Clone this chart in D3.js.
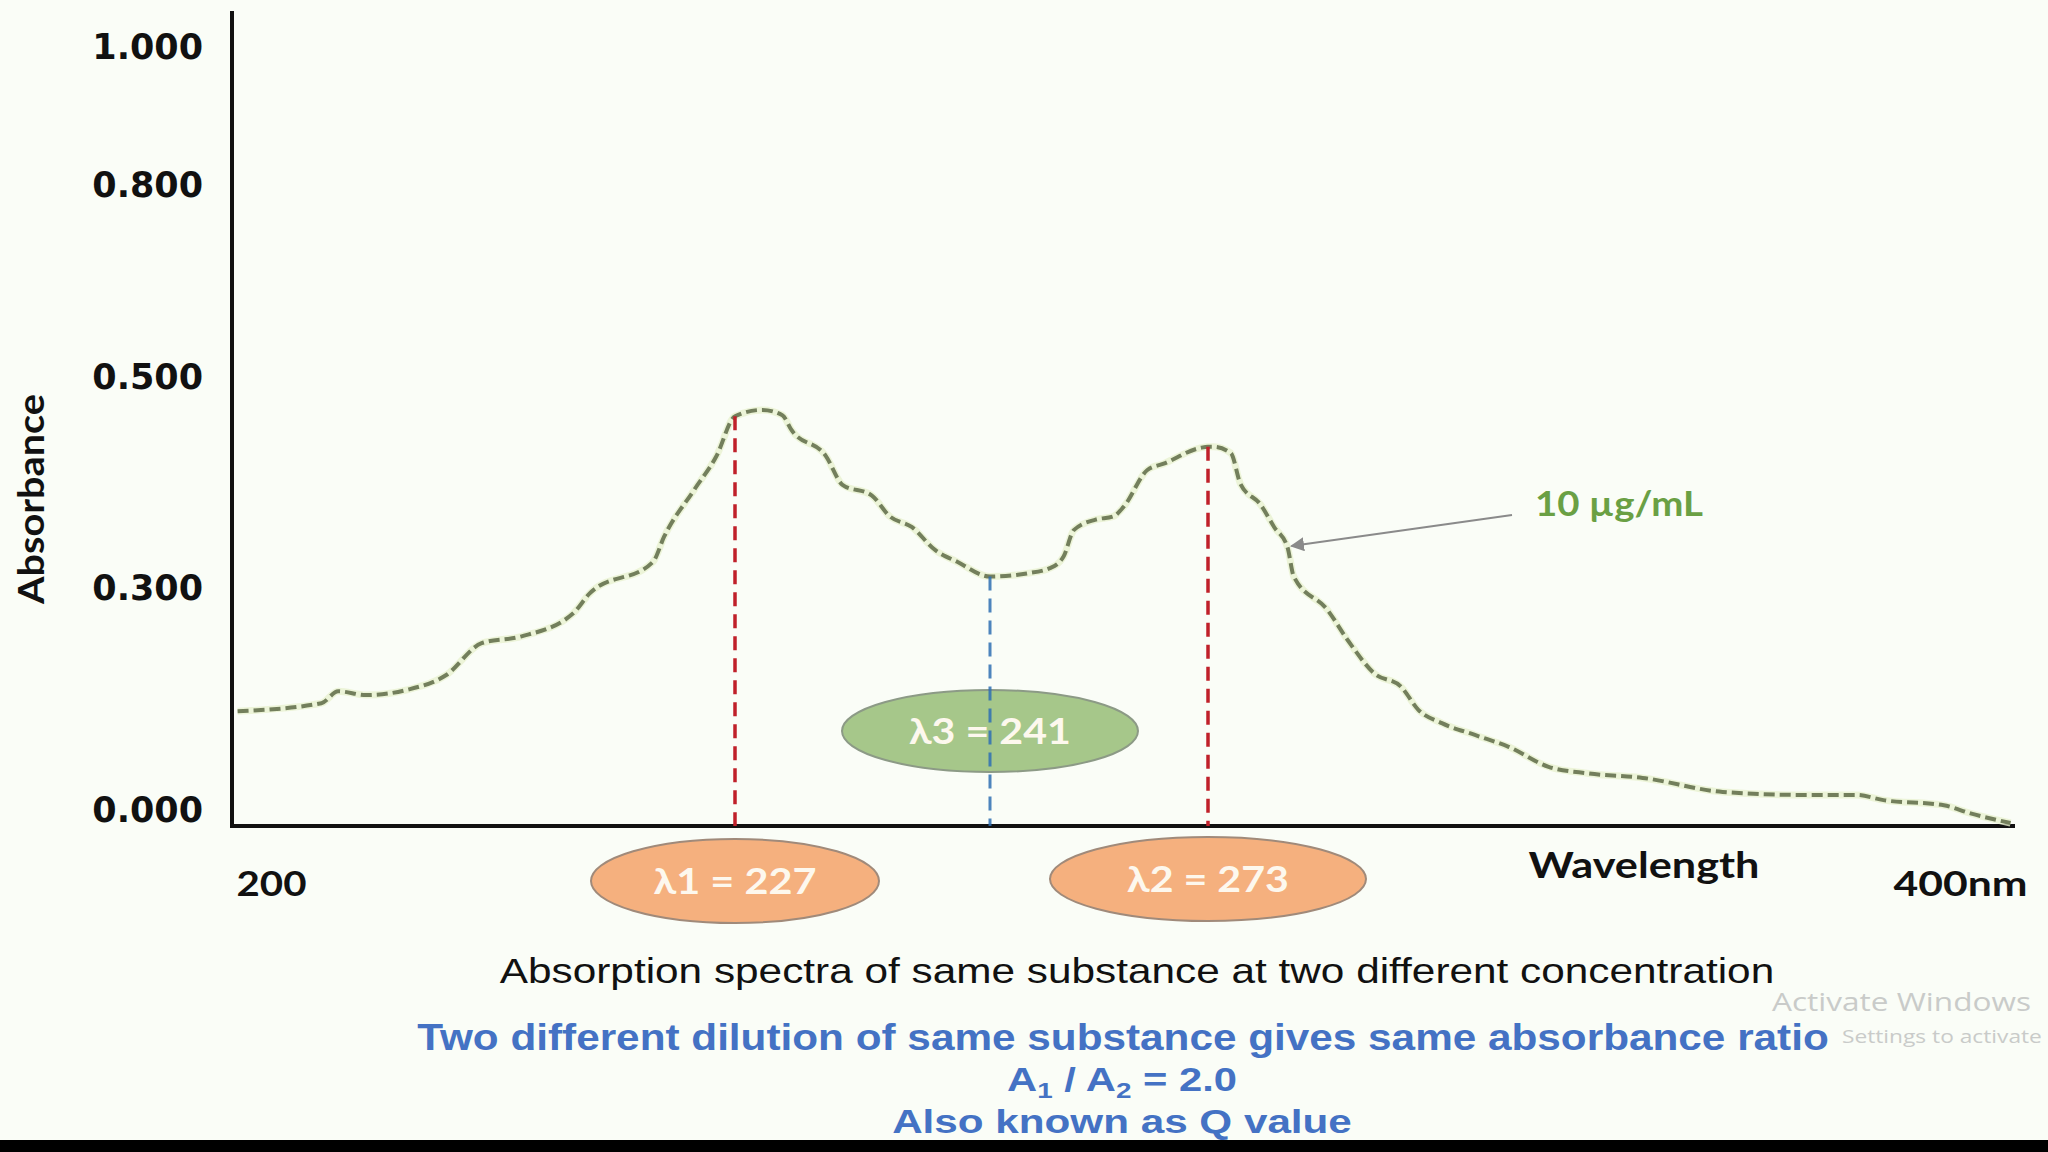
<!DOCTYPE html>
<html>
<head>
<meta charset="utf-8">
<script src="https://cdn.jsdelivr.net/npm/d3@7"></script>
<style>
  body { margin: 0; background: #fafdf7; }
  svg { display: block; }
</style>
</head>
<body>
<svg id="chart" width="2048" height="1152"></svg>
<script>
// Spectrum (nm, absorbance)
const wavelengthNm = [200.3, 204.8, 205.7, 207.2, 209.4, 211.5, 213.4, 215.5, 218.3, 219.2, 222.6, 223.2, 224.8, 226.0, 227.0, 228.5, 229.6, 230.1, 232.0, 232.9, 234.5, 235.5, 236.7, 238.0, 239.2, 241.0, 246.4, 249.8, 251.8, 253.3, 256.5, 259.1, 260.6, 264.1, 266.5, 271.9, 273.0, 273.9, 276.6, 278.1, 281.3, 283.4, 285.5, 286.5, 291.8, 295.0, 299.2, 303.4, 306.1, 309.8, 315.0, 320.3, 326.6, 332.9, 341.4, 354.0, 366.6, 375.1, 379.3, 388.8, 393.0, 399.3];
const absorbance = [0.155, 0.166, 0.182, 0.177, 0.184, 0.204, 0.247, 0.256, 0.287, 0.310, 0.340, 0.364, 0.408, 0.440, 0.478, 0.484, 0.479, 0.465, 0.440, 0.413, 0.403, 0.383, 0.373, 0.351, 0.340, 0.326, 0.329, 0.334, 0.345, 0.370, 0.380, 0.383, 0.392, 0.427, 0.433, 0.448, 0.449, 0.449, 0.443, 0.414, 0.394, 0.373, 0.354, 0.326, 0.292, 0.251, 0.206, 0.188, 0.157, 0.139, 0.123, 0.107, 0.080, 0.071, 0.065, 0.046, 0.042, 0.042, 0.035, 0.028, 0.017, 0.004];

// Axis ticks (the slide spaces them by hand, so scales are piecewise)
const yTicks = [0, 0.3, 0.5, 0.8, 1.0];
const xTicks = [200, 400];
const xTickLabels = ['200', '400nm'];

// Marked wavelengths
const markerNm = [227, 273, 241];
const markerLabels = ['λ1 = 227', 'λ2 = 273', 'λ3 = 241'];
const markerKinds = ['max', 'max', 'min'];

const seriesLabel = '10 µg/mL';
const arrowNm = 285.5;

const xTitle = 'Wavelength';
const yTitle = 'Absorbance';
const captionLines = [
  'Absorption spectra of same substance at two different concentration',
  'Two different dilution of same substance gives same absorbance ratio',
  'A1 / A2 = 2.0',
  'Also known as Q value'
];

const svg = d3.select('#chart');

svg.append('rect').attr('width', 2048).attr('height', 1152).attr('fill', '#fafdf7');

const x = d3.scaleLinear()
  .domain([200, 227, 241, 273, 400])
  .range([232, 735, 990, 1208, 2015]);
const y = d3.scaleLinear()
  .domain([0, 0.3, 0.5, 0.8, 1.0])
  .range([826, 604, 393, 201, 63]);

// stretch a text horizontally around its anchor so it spans the given width
function stretchTo(sel, targetW) {
  const w = sel.node().getComputedTextLength();
  const k = targetW / w;
  const tx = +sel.attr('x') || 0, ty = +sel.attr('y') || 0;
  sel.attr('transform', `translate(${tx},${ty}) scale(${k},1) translate(${-tx},${-ty})`);
}

// ---- axes ----
const yAxis = svg.append('g')
  .attr('transform', `translate(${x(200)},0)`)
  .call(d3.axisLeft(y).tickValues(yTicks).tickFormat(d3.format('.3f')).tickSize(0).tickPadding(29));
yAxis.select('.domain').remove();
yAxis.attr('font-family', '"DejaVu Sans", Verdana, sans-serif')
  .attr('font-size', 35).attr('font-weight', 'bold');
yAxis.selectAll('text').attr('fill', '#111').attr('y', -17).attr('dy', '0.36em');

const xAxis = svg.append('g')
  .attr('transform', `translate(0,${y(0)})`)
  .call(d3.axisBottom(x).tickValues(xTicks).tickFormat((d, i) => xTickLabels[i]).tickSize(0));
xAxis.select('.domain').remove();
xAxis.attr('font-family', 'Lato, "Open Sans", sans-serif')
  .attr('font-size', 35).attr('font-weight', 'bold');
xAxis.selectAll('text')
  .attr('fill', '#111')
  .attr('dy', null)
  .attr('y', 70)
  .attr('x', (d, i) => i === 0 ? 4 : 12)
  .attr('text-anchor', (d, i) => i === 0 ? 'start' : 'end')
  .each(function (d, i) { stretchTo(d3.select(this), i === 0 ? 70 : 134); });

svg.append('line')
  .attr('x1', x(200)).attr('x2', x(200))
  .attr('y1', 11).attr('y2', y(0) + 2)
  .attr('stroke', '#111').attr('stroke-width', 4);
svg.append('line')
  .attr('x1', x(200) - 2).attr('x2', x(400))
  .attr('y1', y(0)).attr('y2', y(0))
  .attr('stroke', '#111').attr('stroke-width', 4);

// axis titles
const xt = svg.append('text')
  .attr('x', 1644).attr('y', 878)
  .attr('text-anchor', 'middle')
  .attr('font-family', 'Lato, "Open Sans", sans-serif')
  .attr('font-size', 36).attr('font-weight', 'bold').attr('fill', '#111')
  .text(xTitle);
stretchTo(xt, 231);

const ytNode = svg.append('text')
  .attr('text-anchor', 'middle')
  .attr('font-family', 'Lato, "Open Sans", sans-serif')
  .attr('font-size', 36).attr('font-weight', 'bold').attr('fill', '#111')
  .text(yTitle);
const ytW = ytNode.node().getComputedTextLength();
ytNode.attr('transform', `translate(44,499) rotate(-90) scale(${210 / ytW},1)`);

// ---- spectrum ----
const spectrum = wavelengthNm.map((nm, i) => ({ nm, a: absorbance[i] }));
const line = d3.line().x(d => x(d.nm)).y(d => y(d.a)).curve(d3.curveMonotoneX);

svg.append('path').datum(spectrum)
  .attr('d', line).attr('fill', 'none')
  .attr('stroke', '#e8f1cf').attr('stroke-width', 7).attr('stroke-opacity', 0.8);
svg.append('path').datum(spectrum)
  .attr('d', line).attr('fill', 'none')
  .attr('stroke', '#737f5c').attr('stroke-width', 4)
  .attr('stroke-dasharray', '11 5');

// ---- marker ovals, labels, dashed drops ----
const ovalLayout = {
  'λ1 = 227': { cy: 881, rx: 144, ry: 42, fill: '#f5b07e', stroke: '#a08a7a', w: 163 },
  'λ2 = 273': { cy: 879, rx: 158, ry: 42, fill: '#f5b07e', stroke: '#a08a7a', w: 162 },
  'λ3 = 241': { cy: 731, rx: 148, ry: 41, fill: '#a6c78a', stroke: '#8c9a86', w: 162 }
};

markerNm.forEach((nm, i) => {
  const lab = markerLabels[i];
  const lay = ovalLayout[lab];
  svg.append('ellipse')
    .attr('cx', x(nm)).attr('cy', lay.cy)
    .attr('rx', lay.rx).attr('ry', lay.ry)
    .attr('fill', lay.fill).attr('stroke', lay.stroke).attr('stroke-width', 2);
  const t = svg.append('text')
    .attr('x', x(nm)).attr('y', lay.cy + 13)
    .attr('text-anchor', 'middle')
    .attr('font-family', 'Lato, "Open Sans", sans-serif')
    .attr('font-size', 36).attr('font-weight', 'bold')
    .attr('fill', '#fdf8ee')
    .text(lab);
  stretchTo(t, lay.w);
});

markerNm.forEach((nm, i) => {
  const top = absorbance[wavelengthNm.indexOf(nm)];
  const isMin = markerKinds[i] === 'min';
  svg.append('line')
    .attr('x1', x(nm)).attr('x2', x(nm))
    .attr('y1', y(top)).attr('y2', y(0))
    .attr('stroke', isMin ? '#2e6fb3' : '#c0202a')
    .attr('stroke-width', isMin ? 3 : 3.5)
    .attr('stroke-opacity', isMin ? 0.85 : 1)
    .attr('stroke-dasharray', '14 8');
});

// ---- series callout ----
svg.append('defs').append('marker')
  .attr('id', 'arrow')
  .attr('viewBox', '0 0 10 10')
  .attr('refX', 9).attr('refY', 5)
  .attr('markerWidth', 7).attr('markerHeight', 7)
  .attr('orient', 'auto')
  .append('path').attr('d', 'M0,0 L10,5 L0,10 z').attr('fill', '#8a8a8a');

const arrowA = absorbance[wavelengthNm.indexOf(arrowNm)];
svg.append('line')
  .attr('x1', 1512).attr('y1', 515)
  .attr('x2', x(arrowNm) + 4).attr('y2', y(arrowA) - 1)
  .attr('stroke', '#8a8a8a').attr('stroke-width', 2)
  .attr('marker-end', 'url(#arrow)');

const sl = svg.append('text')
  .attr('x', 1619).attr('y', 516)
  .attr('text-anchor', 'middle')
  .attr('font-family', 'Lato, "Open Sans", sans-serif')
  .attr('font-size', 34).attr('font-weight', 'bold')
  .attr('fill', '#6aa044')
  .text(seriesLabel);
stretchTo(sl, 168);

// ---- caption ----
const c1 = svg.append('text')
  .attr('x', 1137).attr('y', 983)
  .attr('text-anchor', 'middle')
  .attr('font-family', '"Liberation Sans", Arial, sans-serif')
  .attr('font-size', 35).attr('fill', '#111')
  .text(captionLines[0]);
stretchTo(c1, 1275);

const blue = '#4472c4';
const c2 = svg.append('text')
  .attr('x', 1123).attr('y', 1050)
  .attr('text-anchor', 'middle')
  .attr('font-family', '"Liberation Sans", Arial, sans-serif')
  .attr('font-size', 36).attr('font-weight', 'bold').attr('fill', blue)
  .text(captionLines[1]);
stretchTo(c2, 1412);

// A1 / A2 = 2.0 with subscripts
const c3 = svg.append('text')
  .attr('x', 1122).attr('y', 1091)
  .attr('text-anchor', 'middle')
  .attr('font-family', '"Liberation Sans", Arial, sans-serif')
  .attr('font-size', 33).attr('font-weight', 'bold').attr('fill', blue);
const parts = captionLines[2].match(/^A(\d) \/ A(\d)(.*)$/);
c3.append('tspan').text('A');
c3.append('tspan').attr('font-size', 22).attr('dy', 7).text(parts[1]);
c3.append('tspan').attr('dy', -7).text(' / A');
c3.append('tspan').attr('font-size', 22).attr('dy', 7).text(parts[2]);
c3.append('tspan').attr('dy', -7).text(parts[3]);
stretchTo(c3, 230);

const c4 = svg.append('text')
  .attr('x', 1122).attr('y', 1133)
  .attr('text-anchor', 'middle')
  .attr('font-family', '"Liberation Sans", Arial, sans-serif')
  .attr('font-size', 33).attr('font-weight', 'bold').attr('fill', blue)
  .text(captionLines[3]);
stretchTo(c4, 460);

// screen watermark
const w1 = svg.append('text')
  .attr('x', 1772).attr('y', 1011)
  .attr('font-family', '"Open Sans", sans-serif')
  .attr('font-size', 26).attr('fill', '#c9cbc9')
  .text('Activate Windows');
stretchTo(w1, 259);
const w2 = svg.append('text')
  .attr('x', 1842).attr('y', 1043)
  .attr('font-family', '"Open Sans", sans-serif')
  .attr('font-size', 18).attr('fill', '#c9cbc9')
  .text('Settings to activate');
stretchTo(w2, 200);

// bottom letterbox bar
svg.append('rect').attr('x', 0).attr('y', 1140).attr('width', 2048).attr('height', 12).attr('fill', '#000');
</script>
</body>
</html>
